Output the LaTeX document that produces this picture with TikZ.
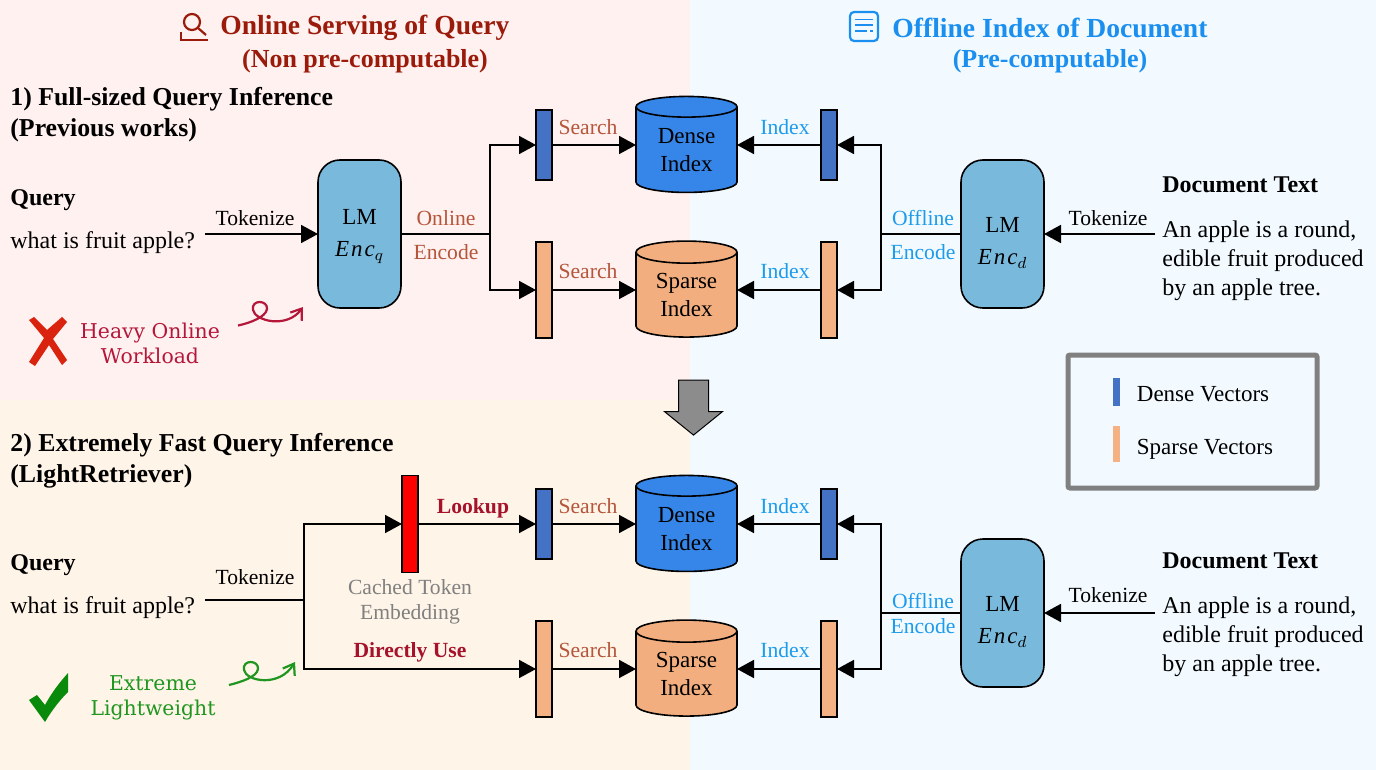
\documentclass[tikz,border=0pt]{standalone}
\usepackage{fontspec}
\setmainfont{Liberation Serif}
\newfontfamily\slabfont{DejaVu Serif}
\usetikzlibrary{shapes.geometric, shapes.arrows, arrows.meta, positioning}

\definecolor{onlinebg}{HTML}{FFF1F0}
\definecolor{lightbg}{HTML}{FFF4E8}
\definecolor{offlinebg}{HTML}{F2FAFF}
\definecolor{onlinetitle}{HTML}{9B1B0B}
\definecolor{offlinetitle}{HTML}{1A8FEF}
\definecolor{searchcol}{HTML}{B5553A}
\definecolor{indexcol}{HTML}{1E9BEA}
\definecolor{boldred}{HTML}{A5122A}
\definecolor{heavycol}{HTML}{B5173A}
\definecolor{lightcol}{HTML}{1F961F}
\definecolor{crosscol}{HTML}{D9230F}
\definecolor{tickcol}{HTML}{0A8A0A}
\definecolor{lmcol}{HTML}{79B9DC}
\definecolor{densevec}{HTML}{4472C4}
\definecolor{sparsevec}{HTML}{F4B183}
\definecolor{densecyl}{HTML}{3586E8}
\definecolor{sparsecyl}{HTML}{F2AE7E}

\newcommand{\enc}[1]{\textit{E\kern1pt n\kern1pt c}$_{#1}$}

\begin{document}
\begin{tikzpicture}[
    x=0.5pt, y=-0.5pt,
    txt/.style={inner sep=0pt, font=\fontsize{12}{14.5}\selectfont, text height=.85em, text depth=.1em},
    para/.style={inner sep=0pt, align=left, font=\fontsize{12}{14.5}\selectfont},
    hdg/.style={inner sep=0pt, align=left, font=\fontsize{12.9}{15.5}\selectfont\bfseries},
    small/.style={inner sep=0pt, font=\fontsize{10.8}{12}\selectfont, text height=.85em, text depth=.1em},
    title/.style={inner sep=0pt, align=center, font=\fontsize{13.8}{16}\selectfont\bfseries},
    subtitle/.style={inner sep=0pt, align=center, font=\fontsize{13}{16}\selectfont\bfseries},
    slab/.style={inner sep=0pt, align=center, font=\fontsize{10.2}{12.7}\selectfont\slabfont},
    lmbox/.style={draw, line width=0.8pt, rounded corners=11pt, fill=lmcol, minimum width=41.5pt, minimum height=74pt, inner sep=0pt, outer sep=0pt},
    lmtext/.style={inner sep=0pt, align=center, font=\fontsize{11.5}{16.2}\selectfont},
    bar/.style={draw, line width=0.7pt, inner sep=0pt, outer sep=0pt, minimum width=8pt},
    densebar/.style={bar, fill=densevec, minimum height=35pt},
    sparsebar/.style={bar, fill=sparsevec, minimum height=48pt},
    store/.style={cylinder, shape border rotate=90, shape aspect=0.36, draw, line width=0.8pt, inner sep=0pt, outer sep=0pt, minimum width=50.5pt, minimum height=48pt, align=center, yshift=-2.5pt, font=\fontsize{11.5}{14.3}\selectfont},
    link/.style={line width=0.9pt},
    arrow/.style={-{Triangle[length=8.5pt, width=9pt]}, line width=0.9pt},
    swirl/.style={-{Straight Barb[length=5pt, width=7pt]}, line width=1.1pt},
]

% backgrounds
\useasboundingbox (0,0) rectangle (1376,770);
\fill[onlinebg] (0,0) rectangle (690,400);
\fill[lightbg] (0,400) rectangle (690,770);
\fill[offlinebg] (690,0) rectangle (1376,770);

% titles
\node[title, text=onlinetitle, anchor=west] (onlinehead) at (220,27.5) {Online Serving of Query};
\node[subtitle, text=onlinetitle] (onlinesub) at (365,61) {(Non pre-computable)};
\node[title, text=offlinetitle, anchor=west] (offlinehead) at (892,27.5) {Offline Index of Document};
\node[subtitle, text=offlinetitle] (offlinesub) at (1050,61) {(Pre-computable)};

% title icons
\draw[onlinetitle, line width=1.1pt] (192,22) circle (8);
\draw[onlinetitle, line width=1.1pt] (198,28) -- (206,35);
\draw[onlinetitle, line width=1.1pt] (181,32) -- (181,40) -- (208,40);
\draw[offlinetitle, line width=1.1pt, rounded corners=2pt] (850,12) rectangle (878,41);
\draw[offlinetitle, line width=0.9pt] (855,19.5) -- (873,19.5) (855,25) -- (873,25) (855,31) -- (867,31) (870,31) -- (873,31);

% 1) full-sized query inference
\node[hdg, anchor=north west] (headq) at (10,87) {1) Full-sized Query Inference\\(Previous works)};
\node[txt, anchor=west, font=\fontsize{12}{14.5}\selectfont\bfseries] (queryq) at (10,198) {Query};
\node[txt, below=21.5pt of queryq.west, anchor=west] (textq) {what is fruit apple?};
\node[lmbox] (lmq) at (359.5,234) {};
\node[lmtext] (lmqtext) at ([yshift=-1.2pt]lmq.center) {LM\\\enc{q}};
\coordinate (startq) at (205,234);
\node[small] (tokq) at (255,218) {Tokenize};
\coordinate (branchq) at (490,234);
\node[small, text=searchcol] (onlineq) at (446,218) {Online};
\node[small, text=searchcol] (encodeq) at (446,252) {Encode};

\node[densebar] (densebarq) at (544,145) {};
\node[sparsebar] (sparsebarq) at (544,290) {};
\node[store, fill=densecyl, right=42pt of densebarq] (densecylq) {Dense\\Index};
\node[store, fill=sparsecyl, right=42pt of sparsebarq] (sparsecylq) {Sparse\\Index};
\node[densebar] (densebard) at (829,145) {};
\node[sparsebar] (sparsebard) at (829,290) {};
\node[small, text=searchcol] (searchq) at (588,127) {Search};
\node[small, text=searchcol, below=62.2pt of searchq] (searchqb) {Search};
\node[small, text=indexcol] (indexd) at (785,127) {Index};
\node[small, text=indexcol, below=62.2pt of indexd] (indexdb) {Index};

\node[lmbox] (lmd) at (1002.5,234) {};
\node[lmtext] (lmdtext) at ([yshift=-4.5pt]lmd.center) {LM\\\enc{d}};
\coordinate (branchd) at (881,234);
\node[small, text=indexcol] (offlined) at (923,218) {Offline};
\node[small, text=indexcol] (encoded) at (923,252) {Encode};
\coordinate (startd) at (1155,234);
\node[small] (tokd) at (1108,218) {Tokenize};
\node[txt, anchor=west, font=\fontsize{12}{14.5}\selectfont\bfseries] (doctitle) at (1162,185) {Document Text};
\node[para, anchor=north west] (doctext) at (1162,220) {An apple is a round,\\edible fruit produced\\by an apple tree.};

\draw[link] (lmq) -- (branchq);
\draw[arrow] (startq) -- (lmq);
\draw[arrow] (branchq) |- (densebarq);
\draw[arrow] (branchq) |- (sparsebarq);
\draw[arrow] (densebarq) -- (densebarq -| densecylq.west);
\draw[arrow] (sparsebarq) -- (sparsebarq -| sparsecylq.west);
\draw[arrow] (densebard) -- (densebard -| densecylq.east);
\draw[arrow] (sparsebard) -- (sparsebard -| sparsecylq.east);
\draw[link] (lmd) -- (branchd);
\draw[arrow] (branchd) |- (densebard);
\draw[arrow] (branchd) |- (sparsebard);
\draw[arrow] (startd) -- (lmd);

% heavy workload
\fill[crosscol] (29,320) -- (34,317) -- (47,330) -- (62,317) -- (67,322) -- (53,339) -- (67,360) -- (62,365) -- (49,345) -- (35,366) -- (29,362) -- (44,338) -- cycle;
\node[slab, text=heavycol] (heavy) at (150,343.5) {Heavy Online\\Workload};
\draw[swirl, heavycol] (238,325.5) .. controls (250,323) and (266,317) .. (267,309) .. controls (268,300) and (251,299) .. (253,310) .. controls (255,321) and (287,329) .. (303,307);

% block arrow and legend
\node[single arrow, shape border rotate=270, draw, fill=black!45, line width=0.5pt, inner sep=7.25pt, minimum width=28.5pt, minimum height=27.5pt, single arrow head extend=7pt, single arrow tip angle=102] (nextstep) at (693.5,401.5) {};
\node[draw=black!50, line width=2.5pt, rounded corners=1pt, minimum width=124.5pt, minimum height=66.5pt, inner sep=0pt] (legend) at (1192.5,421.5) {};
\node[bar, draw=none, fill=densevec, minimum width=3.5pt, minimum height=14pt] (densekey) at (1116,392) {};
\node[bar, draw=none, fill=sparsevec, minimum width=3.5pt, minimum height=18pt] (sparsekey) at (1116,444) {};
\node[inner sep=0pt, font=\fontsize{11.5}{14}\selectfont, right=8.5pt of densekey, yshift=-1pt] (densename) {Dense Vectors};
\node[inner sep=0pt, font=\fontsize{11.5}{14}\selectfont, right=8.5pt of sparsekey, yshift=-2.5pt] (sparsename) {Sparse Vectors};

% 2) extremely fast query inference
\node[hdg, anchor=north west] (headl) at (10,433) {2) Extremely Fast Query Inference\\(LightRetriever)};
\node[txt, anchor=west, font=\fontsize{12}{14.5}\selectfont\bfseries] (queryl) at (10,563) {Query};
\node[txt, below=21.5pt of queryl.west, anchor=west] (textl) {what is fruit apple?};
\coordinate (startl) at (205,600);
\node[small] (tokl) at (255,577) {Tokenize};
\coordinate (branchl) at (304,600);

\node[densebar] (densebarl) at (544,524) {};
\node[bar, fill=red, minimum height=48.5pt, left=59pt of densebarl] (cachebar) {};
\node[sparsebar] (sparsebarl) at (544,669) {};
\node[store, fill=densecyl, right=42pt of densebarl] (densecyll) {Dense\\Index};
\node[store, fill=sparsecyl, right=42pt of sparsebarl] (sparsecyll) {Sparse\\Index};
\node[densebar] (densebarr) at (829,524) {};
\node[sparsebar] (sparsebarr) at (829,669) {};
\node[small, text=black!50, align=center, font=\fontsize{10.8}{12.5}\selectfont, text height=, text depth=] (cachelabel) at (410,602) {Cached Token\\Embedding};
\node[small, text=boldred, font=\fontsize{10.8}{12}\selectfont\bfseries] (lookup) at (473,506) {Lookup};
\node[small, text=boldred, font=\fontsize{10.8}{12}\selectfont\bfseries] (directuse) at (410,650) {Directly Use};
\node[small, text=searchcol] (searchl) at (588,506) {Search};
\node[small, text=searchcol, below=62.2pt of searchl] (searchlb) {Search};
\node[small, text=indexcol] (indexr) at (785,506) {Index};
\node[small, text=indexcol, below=62.2pt of indexr] (indexrb) {Index};

\node[lmbox] (lmr) at (1002.5,613) {};
\node[lmtext] (lmrtext) at ([yshift=-4.5pt]lmr.center) {LM\\\enc{d}};
\coordinate (branchr) at (881,613);
\node[small, text=indexcol] (offliner) at (923,601) {Offline};
\node[small, text=indexcol] (encoder) at (923,626) {Encode};
\coordinate (startr) at (1155,613);
\node[small] (tokr) at (1108,595) {Tokenize};
\node[txt, anchor=west, font=\fontsize{12}{14.5}\selectfont\bfseries] (doctitler) at (1162,561) {Document Text};
\node[para, anchor=north west] (doctextr) at (1162,596) {An apple is a round,\\edible fruit produced\\by an apple tree.};

\draw[link] (startl) -- (branchl);
\draw[arrow] (branchl) |- (cachebar);
\draw[arrow] (branchl) |- (sparsebarl);
\draw[arrow] (cachebar) -- (densebarl);
\draw[arrow] (densebarl) -- (densebarl -| densecyll.west);
\draw[arrow] (sparsebarl) -- (sparsebarl -| sparsecyll.west);
\draw[arrow] (densebarr) -- (densebarr -| densecyll.east);
\draw[arrow] (sparsebarr) -- (sparsebarr -| sparsecyll.east);
\draw[link] (lmr) -- (branchr);
\draw[arrow] (branchr) |- (densebarr);
\draw[arrow] (branchr) |- (sparsebarr);
\draw[arrow] (startr) -- (lmr);

% extreme lightweight
\fill[tickcol] (29,700) -- (37,695) -- (45,705) .. controls (52,692) and (60,682) .. (68,673) -- (68,692) .. controls (60,700) and (52,710) .. (45,722) -- cycle;
\node[slab, text=lightcol] (extreme) at (153,698) {Extreme\\Lightweight};
\draw[swirl, lightcol] (229,685) .. controls (241,682) and (257,677) .. (258,669) .. controls (259,660) and (242,659) .. (244,670) .. controls (246,681) and (279,688) .. (295,662);

\end{tikzpicture}
\end{document}
